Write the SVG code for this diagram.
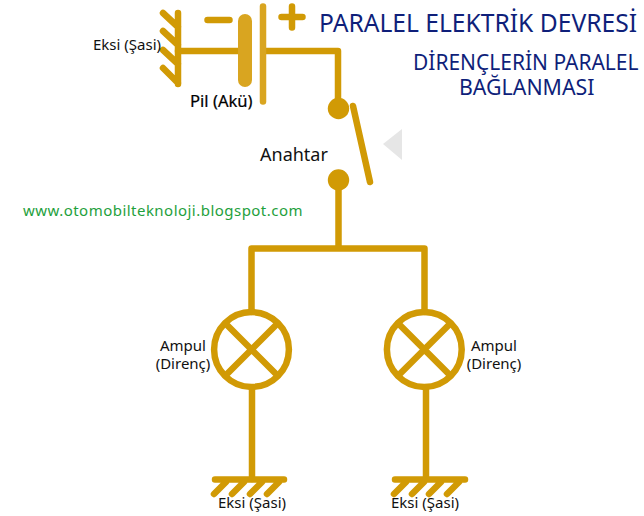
<svg xmlns="http://www.w3.org/2000/svg" width="644" height="516" viewBox="0 0 644 516">
<style>
.w{fill:none;stroke:#d19a05;stroke-width:6.500;stroke-linecap:round;stroke-linejoin:round}
.p{stroke:#d9a520}
.f{fill:#d19a05}
text{font-family:"Noto Sans","Open Sans",sans-serif;fill:#111}
.s{font-size:15px}
.h{fill:#0f1f7a}
</style>
<rect width="644" height="516" fill="#fff"/>
<g id="connectors">
<path class="w" d="M178 51H240M264 51H338V108"/>
<path class="w" d="M338.500 180V248.500M251.500 312V248.500H424.500V312"/>
<path class="w" d="M252 388V479M426 388V479"/>
</g>
<g id="chassis-top">
<path class="w" d="M178 13V84M163 13L178 27M163 31L178 45M163 50L178 64M163 68L178 83"/>
<text class="s" x="93" y="49.500">Eksi (Şasi)</text>
</g>
<g id="battery">
<rect x="238" y="14" width="14" height="73" rx="7" fill="#d9a520"/>
<path class="w p" d="M263 6.500V101.500"/>
<path class="w" d="M207.500 20H229.500M281.500 17H302.500M292 6.500V27.500"/>
<text x="190" y="106.500" style="font-size:16.600px;fill:#000;stroke:#000;stroke-width:.2">Pil (Akü)</text>
</g>
<g id="switch">
<circle class="f" cx="338.500" cy="108.500" r="10.700"/>
<circle class="f" cx="338.500" cy="180" r="10.700"/>
<path class="w" d="M353 106L370 182"/>
<path d="M383 144L402 129V160Z" fill="#e6e6e6"/>
<text x="260" y="161" style="font-size:18px">Anahtar</text>
</g>
<g id="title">
<text class="h" x="319" y="31.500" style="font-size:24.500px" textLength="318" lengthAdjust="spacingAndGlyphs">PARALEL ELEKTRİK DEVRESİ</text>
<text class="h" x="413" y="70" style="font-size:21px" textLength="225.500" lengthAdjust="spacingAndGlyphs">DİRENÇLERİN PARALEL</text>
<text class="h" x="459" y="95" style="font-size:21.500px" textLength="135.500" lengthAdjust="spacingAndGlyphs">BAĞLANMASI</text>
</g>
<text x="23" y="216" style="font-size:15px;fill:#1ea03c;letter-spacing:.47px">www.otomobilteknoloji.blogspot.com</text>
<g id="lamp-left">
<circle class="w" cx="251.500" cy="349.500" r="37.400"/>
<path class="w" d="M225.500 323.500L277.500 375.500M277.500 323.500L225.500 375.500"/>
<text class="s" x="183" y="351" text-anchor="middle">Ampul</text>
<text class="s" x="183" y="369" text-anchor="middle">(Direnç)</text>
</g>
<g id="lamp-right">
<circle class="w" cx="424.300" cy="349.500" r="37.400"/>
<path class="w" d="M398.300 323.500L450.300 375.500M450.300 323.500L398.300 375.500"/>
<text class="s" x="494" y="351" text-anchor="middle">Ampul</text>
<text class="s" x="494" y="369" text-anchor="middle">(Direnç)</text>
</g>
<g id="chassis-left">
<path class="w" d="M215 479.500H284M214 494L226 482M232 494L244 482M250 494L262 482M267 494L279 482"/>
<text class="s" x="218" y="508">Eksi (Şasi)</text>
</g>
<g id="chassis-right">
<path class="w" d="M395 479.500H465M394 494L406 482M412 494L424 482M429 494L441 482M447 494L459 482"/>
<text class="s" x="391" y="508">Eksi (Şasi)</text>
</g>
</svg>
